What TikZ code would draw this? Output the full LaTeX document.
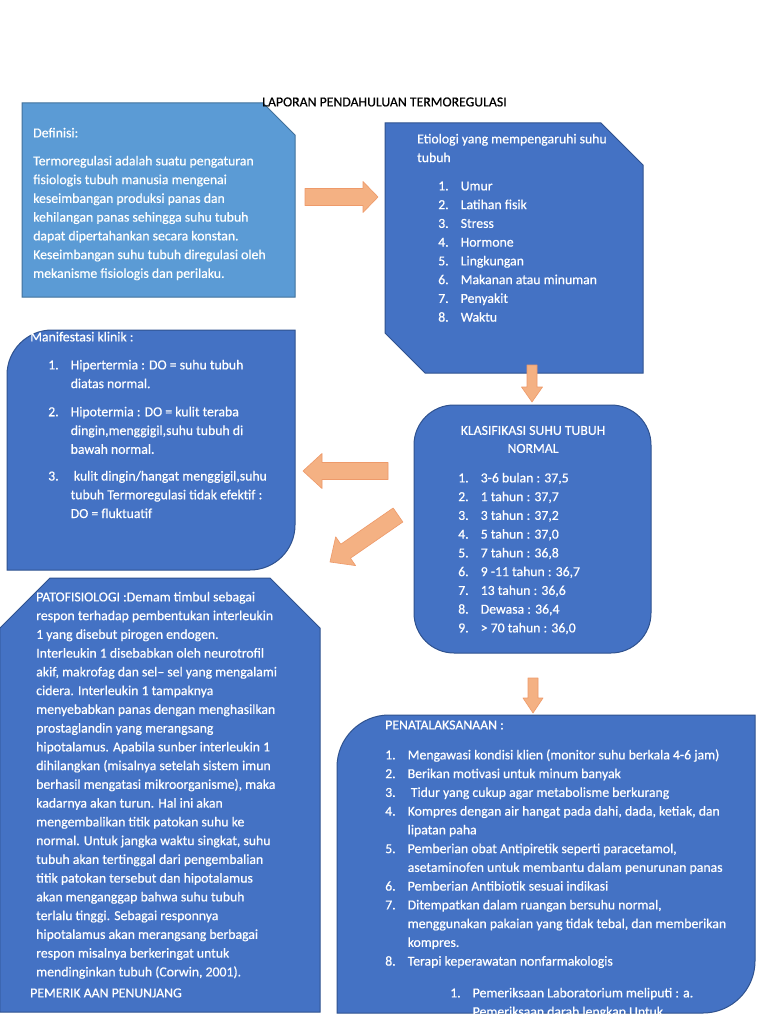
\documentclass[tikz,border=0pt]{standalone}
\usepackage{fontspec}
\setmainfont{Carlito}[FakeBold=0.5]
\usetikzlibrary{calc}

\definecolor{defblue}{HTML}{5B9BD5}
\definecolor{defedge}{HTML}{41719C}
\definecolor{boxblue}{HTML}{4472C4}
\definecolor{boxedge}{HTML}{2F528F}
\definecolor{arrowfill}{HTML}{F4B183}
\definecolor{arrowedge}{HTML}{EE9A6A}

% list number with hanging indent
\newcommand{\nr}[1]{\makebox[18pt][l]{#1}}
\newcommand{\nrskip}{\hspace*{18pt}}

% block arrow: tail, tip, half shaft, half head, head length
\newcommand{\blockarrow}[5]{%
  \coordinate (#1#2) at ($(#2)!#5!(#1)$);
  \fill[arrowbox] ($(#1)!#3!90:(#2)$) -- ($(#1#2)!#3!90:(#2)$)
    -- ($(#1#2)!#4!90:(#2)$) -- (#2) -- ($(#1#2)!#4!-90:(#2)$)
    -- ($(#1#2)!#3!-90:(#2)$) -- ($(#1)!#3!-90:(#2)$) -- cycle;}

\begin{document}
\begin{tikzpicture}[x=0.8pt, y=-0.8pt,
    boxtext/.style={text=white, font=\fontsize{11}{15}\selectfont, anchor=north west, inner sep=0pt, align=left},
    defbox/.style={fill=defblue, draw=defedge, line width=0.8pt},
    bluebox/.style={fill=boxblue, draw=boxedge, line width=0.8pt},
    arrowbox/.style={fill=arrowfill, draw=arrowedge, line width=0.5pt, line join=round}]
    \useasboundingbox (0,0) rectangle (768,1024);
    \fill[white] (0,0) rectangle (768,1024);

    % Boxes
    \draw[defbox] (22,103) -- (263,103) -- (295,135) -- (295,297) -- (22,297) -- cycle;
    \draw[bluebox] (385,123) -- (601,123) -- (643,165) -- (643,373) -- (425,373) -- (385,333) -- cycle;
    \draw[bluebox] (7,570) -- (7,375) arc[start angle=180, end angle=270, radius=45]
        -- (295,330) -- (295,525) arc[start angle=0, end angle=90, radius=45] -- cycle;
    \draw[bluebox, rounded corners=32pt] (414,405) rectangle (651,653);
    \draw[bluebox] (0,1012) -- (0,628) -- (50,578) -- (270,578) -- (320,628) -- (320,1012) -- cycle;
    \draw[bluebox] (337,1013) -- (337,767) arc[start angle=180, end angle=270, radius=52]
        -- (755,715) -- (755,961) arc[start angle=0, end angle=90, radius=52] -- cycle;

    % Title (strut keeps the first baseline 13px below the node top)
    \node[boxtext, text=black] (title) at (262,93) {\strut LAPORAN PENDAHULUAN TERMOREGULASI};

    % Definisi
    \node[boxtext] (defi) at (33,124) {\strut Definisi:\\[7.4pt]
        Termoregulasi adalah suatu pengaturan\\
        fisiologis tubuh manusia mengenai\\
        keseimbangan produksi panas dan\\
        kehilangan panas sehingga suhu tubuh\\
        dapat dipertahankan secara konstan.\\
        Keseimbangan suhu tubuh diregulasi oleh\\
        mekanisme fisiologis dan perilaku.};

    % Etiologi
    \node[boxtext] (etihead) at (417,130) {\strut Etiologi yang mempengaruhi suhu\\ tubuh};
    \node[boxtext] (etilist) at (438,177) {\strut\nr{1.}Umur\\ \nr{2.}Latihan fisik\\
        \nr{3.}Stress\\ \nr{4.}Hormone\\ \nr{5.}Lingkungan\\
        \nr{6.}Makanan atau minuman\\ \nr{7.}Penyakit\\ \nr{8.}Waktu};

    % Manifestasi klinik
    \node[boxtext] (manihead) at (30,328) {\strut Manifestasi klinik :};
    \node[boxtext] (manilist) at (48,356) {\strut\nr{1.}Hipertermia : DO = suhu tubuh\\
        \nrskip diatas normal.\\[7.5pt]
        \nr{2.}Hipotermia : DO = kulit teraba\\
        \nrskip dingin,menggigil,suhu tubuh di\\
        \nrskip bawah normal.\\[6.4pt]
        \nr{3.}\ kulit dingin/hangat menggigil,suhu\\
        \nrskip tubuh Termoregulasi tidak efektif :\\
        \nrskip DO = fluktuatif};

    % Klasifikasi suhu tubuh normal
    \node[boxtext, anchor=north, align=center, font=\fontsize{11}{14.4}\selectfont] (klahead) at (533,422)
        {\strut KLASIFIKASI SUHU TUBUH\\ NORMAL};
    \node[boxtext] (klalist) at (458,469) {\strut\nr{1.}3-6 bulan : 37,5\\ \nr{2.}1 tahun : 37,7\\
        \nr{3.}3 tahun : 37,2\\ \nr{4.}5 tahun : 37,0\\ \nr{5.}7 tahun : 36,8\\
        \nr{6.}9 -11 tahun : 36,7\\ \nr{7.}13 tahun : 36,6\\ \nr{8.}Dewasa : 36,4\\
        \nr{9.}> 70 tahun : 36,0};

    % Patofisiologi
    \node[boxtext] (pato) at (36,588) {\strut PATOFISIOLOGI :Demam timbul sebagai\\
        respon terhadap pembentukan interleukin\\
        1 yang disebut pirogen endogen.\\
        Interleukin 1 disebabkan oleh neurotrofil\\
        akif, makrofag dan sel-- sel yang mengalami\\
        cidera. Interleukin 1 tampaknya\\
        menyebabkan panas dengan menghasilkan\\
        prostaglandin yang merangsang\\
        hipotalamus. Apabila sunber interleukin 1\\
        dihilangkan (misalnya setelah sistem imun\\
        berhasil mengatasi mikroorganisme), maka\\
        kadarnya akan turun. Hal ini akan\\
        mengembalikan titik patokan suhu ke\\
        normal. Untuk jangka waktu singkat, suhu\\
        tubuh akan tertinggal dari pengembalian\\
        titik patokan tersebut dan hipotalamus\\
        akan menganggap bahwa suhu tubuh\\
        terlalu tinggi. Sebagai responnya\\
        hipotalamus akan merangsang berbagai\\
        respon misalnya berkeringat untuk\\
        mendinginkan tubuh (Corwin, 2001).};
    \node[boxtext] (penunjang) at (30,984) {\strut PEMERIK AAN PENUNJANG};

    % Penatalaksanaan
    \node[boxtext] (penahead) at (385,716) {\strut PENATALAKSANAAN :};
    \node[boxtext] (penalist) at (385,746) {\strut\nr{1.}Mengawasi kondisi klien (monitor suhu berkala 4-6 jam)\\
        \nr{2.}Berikan motivasi untuk minum banyak\\
        \nr{3.}\ Tidur yang cukup agar metabolisme berkurang\\
        \nr{4.}Kompres dengan air hangat pada dahi, dada, ketiak, dan\\
        \nrskip lipatan paha\\
        \nr{5.}Pemberian obat Antipiretik seperti paracetamol,\\
        \nrskip asetaminofen untuk membantu dalam penurunan panas\\
        \nr{6.}Pemberian Antibiotik sesuai indikasi\\
        \nr{7.}Ditempatkan dalam ruangan bersuhu normal,\\
        \nrskip menggunakan pakaian yang tidak tebal, dan memberikan\\
        \nrskip kompres.\\
        \nr{8.}Terapi keperawatan nonfarmakologis};
    \begin{scope}
        \clip (337,1013) -- (337,715) -- (755,715) -- (755,1013) -- cycle;
        \node[boxtext] (lab) at (450,984) {\strut\nr{1.}Pemeriksaan Laboratorium meliputi : a.\\
            \nrskip Pemeriksaan darah lengkap Untuk};
    \end{scope}

    % Arrows between boxes
    \coordinate (a1s) at (305,197);  \coordinate (a1e) at (378,197);
    \coordinate (a2s) at (532,365);  \coordinate (a2e) at (532,402);
    \coordinate (a3s) at (388,471);  \coordinate (a3e) at (303,471);
    \coordinate (a4s) at (398,515);  \coordinate (a4e) at (330,562);
    \coordinate (a5s) at (533,678);  \coordinate (a5e) at (533,713);
    \blockarrow{a1s}{a1e}{6.8pt}{12.4pt}{12pt}
    \blockarrow{a2s}{a2e}{4pt}{8.4pt}{12pt}
    \blockarrow{a3s}{a3e}{6.8pt}{14pt}{15.2pt}
    \blockarrow{a4s}{a4e}{6.8pt}{14pt}{15.2pt}
    \blockarrow{a5s}{a5e}{4pt}{8pt}{12pt}
\end{tikzpicture}
\end{document}
